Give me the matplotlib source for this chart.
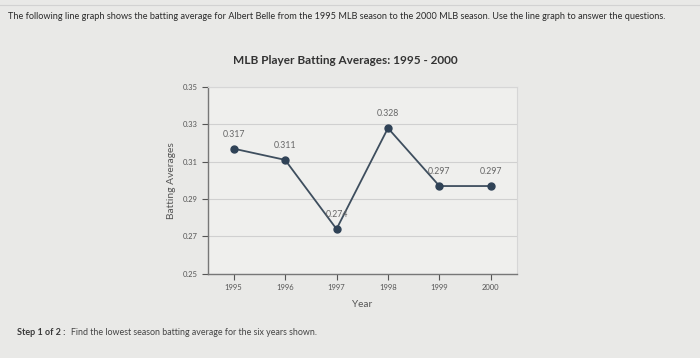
import matplotlib.pyplot as plt

plt.rcParams["font.family"] = ["Lato", "DejaVu Sans"]

years = [1995, 1996, 1997, 1998, 1999, 2000]
averages = [0.317, 0.311, 0.274, 0.328, 0.297, 0.297]
point_labels = ["0.317", "0.311", "0.274", "0.328", "0.297", "0.297"]
y_ticks = [0.25, 0.27, 0.29, 0.31, 0.33, 0.35]

bg = "#e9e9e7"
fig = plt.figure(figsize=(7, 3.58), dpi=100, facecolor=bg)

fig.text(0.012, 0.953, "The following line graph shows the batting average for Albert Belle "
         "from the 1995 MLB season to the 2000 MLB season. Use the line graph to answer the questions.",
         fontsize=6.6, color="#2a2a2a", va="center", ha="left")
fig.add_artist(plt.Line2D([0, 1], [0.985, 0.985], color="#d2d2d2", lw=0.8))

fig.text(0.493, 0.832, "MLB Player Batting Averages: 1995 - 2000",
         fontsize=8.5, fontweight="bold", color="#333333", ha="center", va="center")

ax = fig.add_axes([0.297, 0.235, 0.441, 0.522])
ax.set_facecolor("#efefed")
ax.plot(years, averages, color="#3e4e5e", lw=1.3, marker="o", ms=5,
        markerfacecolor="#2f4256", markeredgecolor="#2f4256", zorder=3)
for x, y, t in zip(years, averages, point_labels):
    ax.annotate(t, (x, y), xytext=(0, 7), textcoords="offset points",
                ha="center", va="bottom", fontsize=6.3, color="#666666")

ax.set_xlim(1994.5, 2000.5)
ax.set_ylim(0.25, 0.35)
ax.set_xticks(years)
ax.set_xticklabels([str(y) for y in years])
ax.set_yticks(y_ticks)
ax.set_yticklabels(["0.25", "0.27", "0.29", "0.31", "0.33", "0.35"])
ax.tick_params(axis="both", labelsize=5.5, colors="#555555", length=4, width=0.8,
               direction="out")
ax.grid(axis="y", color="#d0d0d0", lw=0.8)
ax.set_axisbelow(True)
for side in ["top", "right"]:
    ax.spines[side].set_color("#d6d6d6")
for side in ["left", "bottom"]:
    ax.spines[side].set_color("#777777")
    ax.spines[side].set_linewidth(1.0)

ax.set_ylabel("Batting Averages", fontsize=7.4, color="#555555", labelpad=5)
ax.set_xlabel("Year", fontsize=7.2, color="#555555", labelpad=6)

fig.text(0.024, 0.07, "Step 1 of 2 :", fontsize=6.5, fontweight="bold",
         color="#3a3a3a", ha="left", va="center")
fig.text(0.102, 0.07, "Find the lowest season batting average for the six years shown.",
         fontsize=6.4, color="#444444", ha="left", va="center")

fig.savefig("out.png", dpi=100, facecolor=bg)
